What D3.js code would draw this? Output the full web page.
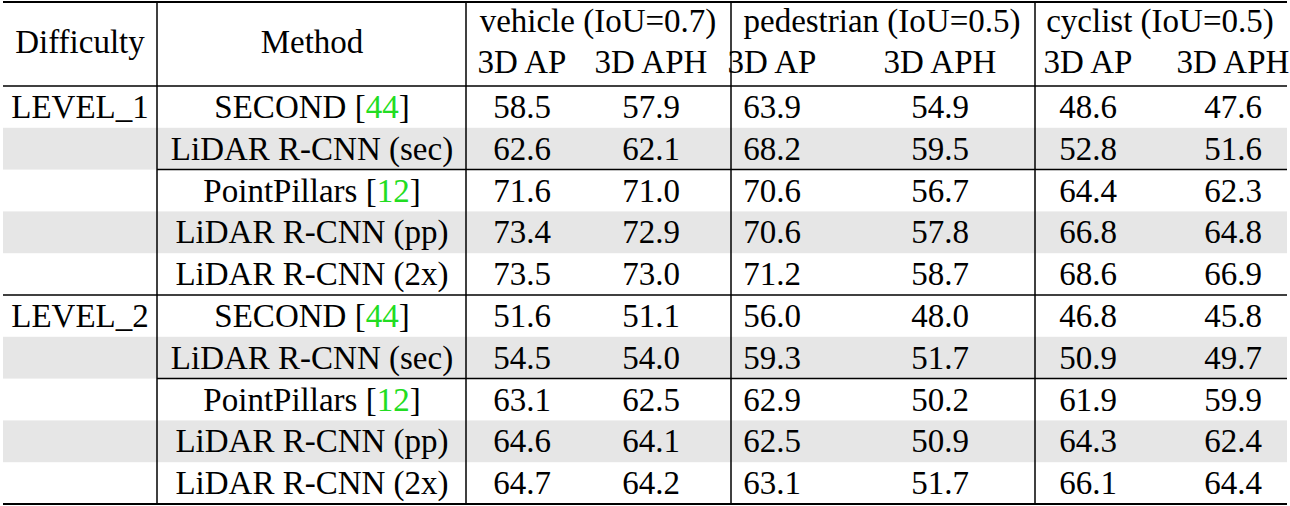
<!DOCTYPE html>
<html>
<head>
<meta charset="utf-8">
<script src="https://cdn.jsdelivr.net/npm/d3@7"></script>
<style>
  body { margin: 0; background: white; }
  svg text { font-family: "Liberation Serif", "DejaVu Serif", serif; fill: black; }
</style>
</head>
<body>
<svg id="canvas"></svg>
<script>
const difficulties = ["LEVEL_1", "LEVEL_2"];
const methods = ["SECOND", "LiDAR R-CNN (sec)", "PointPillars", "LiDAR R-CNN (pp)", "LiDAR R-CNN (2x)"];
const refs = ["44", null, "12", null, null];
const groups = ["vehicle (IoU=0.7)", "pedestrian (IoU=0.5)", "cyclist (IoU=0.5)"];
const metrics = ["3D AP", "3D APH", "3D AP", "3D APH", "3D AP", "3D APH"];
const level1 = [
  [58.5, 57.9, 63.9, 54.9, 48.6, 47.6],
  [62.6, 62.1, 68.2, 59.5, 52.8, 51.6],
  [71.6, 71.0, 70.6, 56.7, 64.4, 62.3],
  [73.4, 72.9, 70.6, 57.8, 66.8, 64.8],
  [73.5, 73.0, 71.2, 58.7, 68.6, 66.9]
];
const level2 = [
  [51.6, 51.1, 56.0, 48.0, 46.8, 45.8],
  [54.5, 54.0, 59.3, 51.7, 50.9, 49.7],
  [63.1, 62.5, 62.9, 50.2, 61.9, 59.9],
  [64.6, 64.1, 62.5, 50.9, 64.3, 62.4],
  [64.7, 64.2, 63.1, 51.7, 66.1, 64.4]
];

const width = 1290, height = 506;
const svg = d3.select("#canvas").attr("width", width).attr("height", height);

const rows = [];
[level1, level2].forEach((vals, li) => {
  vals.forEach((v, mi) => rows.push({ level: mi === 0 ? difficulties[li] : "", method: methods[mi], ref: refs[mi], vals: v, mi }));
});

const y = d3.scaleBand().domain(d3.range(rows.length)).range([86, 504]);
const colX = d3.scaleOrdinal().domain(d3.range(6)).range([522, 651, 772, 940, 1088, 1233]);
const groupX = d3.scaleOrdinal().domain(d3.range(3)).range([598, 882, 1160]);
const fs = 33;

function txt(x, yy, s) {
  return svg.append("text")
    .attr("x", x).attr("y", yy)
    .attr("text-anchor", "middle")
    .style("font-size", fs + "px")
    .text(s);
}

// shaded rows
svg.selectAll("rect.shade")
  .data(rows.filter(r => r.mi === 1 || r.mi === 3))
  .enter().append("rect")
  .attr("x", 3).attr("width", width - 6)
  .attr("y", r => y(rows.indexOf(r)))
  .attr("height", y.bandwidth())
  .attr("fill", "#e6e6e6");

// headers
txt(80, 53, "Difficulty");
txt(312, 53, "Method");
groups.forEach((g, i) => txt(groupX(i), 32, g));
metrics.forEach((m, i) => txt(colX(i), 73, m));

// body
rows.forEach((r, i) => {
  const by = y(i) + y.bandwidth() / 2 + 11;
  if (r.level) txt(80, by, r.level);
  const t = txt(312, by, r.method);
  if (r.ref) {
    t.append("tspan").text(" [");
    t.append("tspan").text(r.ref).style("fill", "#22dd22");
    t.append("tspan").text("]");
  }
  r.vals.forEach((v, j) => txt(colX(j), by, v.toFixed(1)));
});

// rules
const line = (x1, y1, x2, y2, w) => svg.append("line")
  .attr("x1", x1).attr("y1", y1).attr("x2", x2).attr("y2", y2)
  .attr("stroke", "black").attr("stroke-width", w || 1.5);
line(3, 2, width - 3, 2, 2);
line(3, 86, width - 3, 86);
line(3, y(5), width - 3, y(5));
line(3, 504, width - 3, 504, 2);
line(157, y(2), width - 3, y(2));
line(157, y(7), width - 3, y(7));
[157, 466, 731, 1035].forEach(x => line(x, 2, x, 504));
</script>
</body>
</html>
